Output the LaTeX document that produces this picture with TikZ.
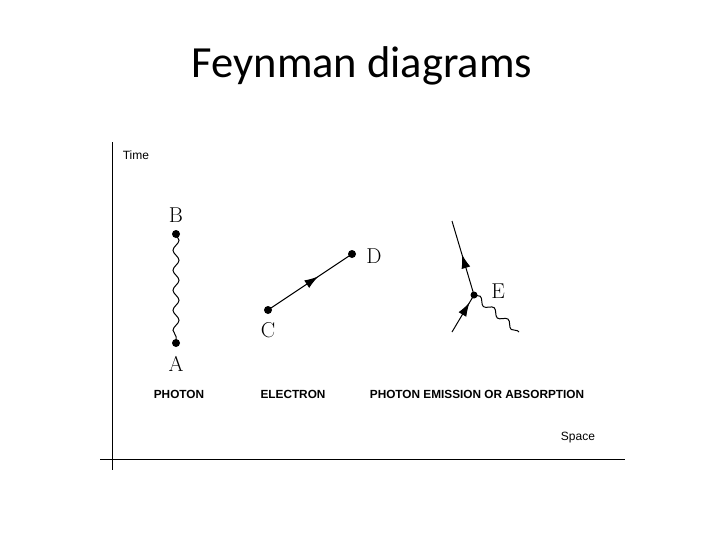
\documentclass[tikz,border=0pt]{standalone}
\usepackage{fontspec}
\usepackage{tikz}
\usetikzlibrary{arrows.meta}
\usetikzlibrary{decorations.pathmorphing}
\usetikzlibrary{decorations.markings}
\newfontfamily\titlefont{Carlito}
\newfontfamily\labelfont{Liberation Sans}
\tikzset{
  vtx/.style={circle, fill=black, inner sep=0pt, minimum size=8pt},
  letter/.style={font=\fontsize{21.5}{22}\selectfont\rmfamily},
  caption/.style={font=\labelfont\bfseries\fontsize{11.8}{12}\selectfont},
  axislabel/.style={font=\labelfont\fontsize{12}{12}\selectfont},
  photon/.style={decorate, decoration={snake, amplitude=3pt, segment length=20pt}},
  fermion/.style={postaction={decorate}, decoration={markings,
      mark=at position #1 with {\arrow{Latex[length=14pt,width=9pt]}}}},
}
\begin{document}
\begin{tikzpicture}[x=1pt, y=-1pt, line width=1pt]
\useasboundingbox (0,0) rectangle (728,546);

\node (title) at (362,66) {\titlefont\fontsize{44.5}{48}\selectfont Feynman diagrams};

% axes
\coordinate (ytop) at (112,142);
\coordinate (ybot) at (112,470);
\coordinate (xl) at (100,459);
\coordinate (xr) at (625,459);
\draw[line width=0.6pt] (ytop) -- (ybot);
\draw[line width=0.6pt] (xl) -- (xr);
\node[axislabel, anchor=west] (time) at (119,155) {Time};
\node[axislabel] (space) at (578,438) {Space};

% photon
\node[vtx] (B) at (176,234) {};
\node[vtx] (A) at (176,343) {};
\node[letter] at (176,215) (labB) {B};
\node[letter] at (176,364) (labA) {A};
\draw[photon] (B.center) -- (A.center);
\node[caption] (cphoton) at (179,394) {PHOTON};

% electron
\node[vtx] (C) at (268,310) {};
\node[vtx] (D) at (352,254) {};
\node[letter] at (268,330) (labC) {C};
\node[letter] at (374,256) (labD) {D};
\draw[fermion=0.6] (C.center) -- (D.center);
\node[caption] (celectron) at (293,394) {ELECTRON};

% emission / absorption
\node[vtx, minimum size=7pt] (E) at (474,295) {};
\coordinate (eout) at (452,221);
\coordinate (ein) at (452,332);
\coordinate (ephoton) at (519,332);
\node[letter] at (498,291) (labE) {E};
\draw[fermion=0.55] (E.center) -- (eout);
\draw[fermion=0.8] (ein) -- (E.center);
\draw[decorate, decoration={snake, amplitude=3pt, segment length=18pt}] (E.center) -- (ephoton);
\node[caption] (cemission) at (477,394) {PHOTON EMISSION OR ABSORPTION};

\end{tikzpicture}
\end{document}
